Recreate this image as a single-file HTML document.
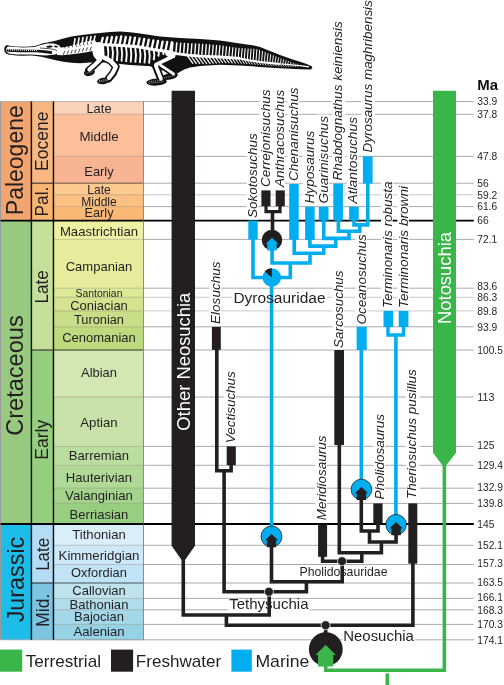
<!DOCTYPE html>
<html lang="en">
<head>
<meta charset="utf-8">
<title>Tethysuchia phylogeny</title>
<style>
html,body{margin:0;padding:0;background:#fff;}
body{width:504px;height:685px;overflow:hidden;font-family:"Liberation Sans",Arial,sans-serif;}
svg{display:block;}
</style>
</head>
<body>
<svg width="504" height="685" viewBox="0 0 504 685">
<rect width="504" height="685" fill="#fff"/>
<rect x="0.60" y="101.60" width="30.80" height="119.10" fill="#F2A56F" />
<rect x="0.60" y="220.70" width="30.80" height="303.30" fill="#97C97F" />
<rect x="0.60" y="524.00" width="30.80" height="115.80" fill="#1EBCE8" />
<rect x="31.40" y="101.60" width="21.90" height="81.60" fill="#F6B783" />
<rect x="31.40" y="183.20" width="21.90" height="37.50" fill="#F8B570" />
<rect x="31.40" y="220.70" width="21.90" height="129.30" fill="#C5E09B" />
<rect x="31.40" y="350.00" width="21.90" height="174.00" fill="#96CE7F" />
<rect x="31.40" y="524.00" width="21.90" height="59.00" fill="#B4DCF4" />
<rect x="31.40" y="583.00" width="21.90" height="56.80" fill="#7CC4E0" />
<rect x="53.30" y="101.60" width="89.70" height="12.70" fill="#FAD3B8" />
<rect x="53.30" y="114.30" width="89.70" height="42.10" fill="#FBBF9C" />
<rect x="53.30" y="156.40" width="89.70" height="26.80" fill="#F8B393" />
<rect x="53.30" y="183.20" width="89.70" height="11.60" fill="#FCC98E" />
<rect x="53.30" y="194.80" width="89.70" height="11.80" fill="#FBC082" />
<rect x="53.30" y="206.60" width="89.70" height="14.10" fill="#FAB877" />
<rect x="53.30" y="220.70" width="89.70" height="18.70" fill="#EEF1A2" />
<rect x="53.30" y="239.40" width="89.70" height="48.80" fill="#E7EC9C" />
<rect x="53.30" y="288.20" width="89.70" height="9.10" fill="#DEE996" />
<rect x="53.30" y="297.30" width="89.70" height="13.60" fill="#D4E38E" />
<rect x="53.30" y="310.90" width="89.70" height="15.90" fill="#C9DF87" />
<rect x="53.30" y="326.80" width="89.70" height="23.20" fill="#BEDA7F" />
<rect x="53.30" y="350.00" width="89.70" height="47.00" fill="#D3E7B2" />
<rect x="53.30" y="397.00" width="89.70" height="49.40" fill="#C9E2AA" />
<rect x="53.30" y="446.40" width="89.70" height="18.90" fill="#BCDDA0" />
<rect x="53.30" y="465.30" width="89.70" height="22.90" fill="#B0D896" />
<rect x="53.30" y="488.20" width="89.70" height="15.20" fill="#A4D38C" />
<rect x="53.30" y="503.40" width="89.70" height="20.60" fill="#98CE82" />
<rect x="53.30" y="524.00" width="89.70" height="21.30" fill="#DAEEFA" />
<rect x="53.30" y="545.30" width="89.70" height="19.20" fill="#CDE8F8" />
<rect x="53.30" y="564.50" width="89.70" height="18.50" fill="#C0E3F6" />
<rect x="53.30" y="583.00" width="89.70" height="15.40" fill="#BFE3EC" />
<rect x="53.30" y="598.40" width="89.70" height="11.40" fill="#B1DDEA" />
<rect x="53.30" y="609.80" width="89.70" height="14.60" fill="#A4D8E8" />
<rect x="53.30" y="624.40" width="89.70" height="15.40" fill="#96D2E5" />
<line x1="53.30" y1="114.30" x2="143.00" y2="114.30" stroke="#6e6450" stroke-width="0.7" stroke-opacity="0.45"/>
<line x1="53.30" y1="156.40" x2="143.00" y2="156.40" stroke="#6e6450" stroke-width="0.7" stroke-opacity="0.45"/>
<line x1="53.30" y1="183.20" x2="143.00" y2="183.20" stroke="#6e6450" stroke-width="0.7" stroke-opacity="0.45"/>
<line x1="53.30" y1="194.80" x2="143.00" y2="194.80" stroke="#6e6450" stroke-width="0.7" stroke-opacity="0.45"/>
<line x1="53.30" y1="206.60" x2="143.00" y2="206.60" stroke="#6e6450" stroke-width="0.7" stroke-opacity="0.45"/>
<line x1="53.30" y1="220.70" x2="143.00" y2="220.70" stroke="#6e6450" stroke-width="0.7" stroke-opacity="0.45"/>
<line x1="53.30" y1="239.40" x2="143.00" y2="239.40" stroke="#6e6450" stroke-width="0.7" stroke-opacity="0.45"/>
<line x1="53.30" y1="288.20" x2="143.00" y2="288.20" stroke="#6e6450" stroke-width="0.7" stroke-opacity="0.45"/>
<line x1="53.30" y1="297.30" x2="143.00" y2="297.30" stroke="#6e6450" stroke-width="0.7" stroke-opacity="0.45"/>
<line x1="53.30" y1="310.90" x2="143.00" y2="310.90" stroke="#6e6450" stroke-width="0.7" stroke-opacity="0.45"/>
<line x1="53.30" y1="326.80" x2="143.00" y2="326.80" stroke="#6e6450" stroke-width="0.7" stroke-opacity="0.45"/>
<line x1="53.30" y1="350.00" x2="143.00" y2="350.00" stroke="#6e6450" stroke-width="0.7" stroke-opacity="0.45"/>
<line x1="53.30" y1="397.00" x2="143.00" y2="397.00" stroke="#6e6450" stroke-width="0.7" stroke-opacity="0.45"/>
<line x1="53.30" y1="446.40" x2="143.00" y2="446.40" stroke="#6e6450" stroke-width="0.7" stroke-opacity="0.45"/>
<line x1="53.30" y1="465.30" x2="143.00" y2="465.30" stroke="#6e6450" stroke-width="0.7" stroke-opacity="0.45"/>
<line x1="53.30" y1="488.20" x2="143.00" y2="488.20" stroke="#6e6450" stroke-width="0.7" stroke-opacity="0.45"/>
<line x1="53.30" y1="503.40" x2="143.00" y2="503.40" stroke="#6e6450" stroke-width="0.7" stroke-opacity="0.45"/>
<line x1="53.30" y1="524.00" x2="143.00" y2="524.00" stroke="#6e6450" stroke-width="0.7" stroke-opacity="0.45"/>
<line x1="53.30" y1="545.30" x2="143.00" y2="545.30" stroke="#6e6450" stroke-width="0.7" stroke-opacity="0.45"/>
<line x1="53.30" y1="564.50" x2="143.00" y2="564.50" stroke="#6e6450" stroke-width="0.7" stroke-opacity="0.45"/>
<line x1="53.30" y1="583.00" x2="143.00" y2="583.00" stroke="#6e6450" stroke-width="0.7" stroke-opacity="0.45"/>
<line x1="53.30" y1="598.40" x2="143.00" y2="598.40" stroke="#6e6450" stroke-width="0.7" stroke-opacity="0.45"/>
<line x1="53.30" y1="609.80" x2="143.00" y2="609.80" stroke="#6e6450" stroke-width="0.7" stroke-opacity="0.45"/>
<line x1="53.30" y1="624.40" x2="143.00" y2="624.40" stroke="#6e6450" stroke-width="0.7" stroke-opacity="0.45"/>
<line x1="53.30" y1="639.80" x2="143.00" y2="639.80" stroke="#6e6450" stroke-width="0.7" stroke-opacity="0.45"/>
<line x1="0.60" y1="101.60" x2="143.00" y2="101.60" stroke="#9a9a9a" stroke-width="0.7" />
<line x1="0.60" y1="639.80" x2="143.00" y2="639.80" stroke="#9a9a9a" stroke-width="0.7" />
<line x1="0.50" y1="101.60" x2="0.50" y2="639.80" stroke="#9a9a9a" stroke-width="1" />
<line x1="31.40" y1="101.60" x2="31.40" y2="639.80" stroke="#111" stroke-width="1.45" />
<line x1="53.45" y1="101.60" x2="53.45" y2="639.80" stroke="#111" stroke-width="1.45" />
<line x1="53.30" y1="183.20" x2="143.00" y2="183.20" stroke="#6b5a4a" stroke-width="0.9" />
<line x1="31.40" y1="183.20" x2="53.30" y2="183.20" stroke="#231F20" stroke-width="1.0" />
<line x1="53.30" y1="350.00" x2="143.00" y2="350.00" stroke="#3c4a30" stroke-width="1.0" />
<line x1="31.40" y1="350.00" x2="53.30" y2="350.00" stroke="#231F20" stroke-width="1.0" />
<line x1="53.30" y1="583.00" x2="143.00" y2="583.00" stroke="#4a5a66" stroke-width="0.9" />
<line x1="31.40" y1="583.00" x2="53.30" y2="583.00" stroke="#231F20" stroke-width="1.0" />
<line x1="0.60" y1="220.70" x2="144.00" y2="220.70" stroke="#000" stroke-width="1.8" />
<line x1="0.60" y1="524.00" x2="144.00" y2="524.00" stroke="#000" stroke-width="1.8" />
<g font-family="'Liberation Sans', Arial, sans-serif">
<text x="99.00" y="112.60" font-size="12.4" text-anchor="middle" fill="#231F20" textLength="25.2" lengthAdjust="spacingAndGlyphs">Late</text>
<text x="99.00" y="141.40" font-size="12.9" text-anchor="middle" fill="#231F20" textLength="39.2" lengthAdjust="spacingAndGlyphs">Middle</text>
<text x="99.00" y="175.70" font-size="12.6" text-anchor="middle" fill="#231F20" textLength="29.4" lengthAdjust="spacingAndGlyphs">Early</text>
<text x="99.00" y="194.10" font-size="12.4" text-anchor="middle" fill="#231F20" textLength="23.5" lengthAdjust="spacingAndGlyphs">Late</text>
<text x="99.00" y="205.50" font-size="12.1" text-anchor="middle" fill="#231F20" textLength="35.5" lengthAdjust="spacingAndGlyphs">Middle</text>
<text x="99.00" y="217.30" font-size="12.4" text-anchor="middle" fill="#231F20" textLength="29.1" lengthAdjust="spacingAndGlyphs">Early</text>
<text x="99.00" y="235.60" font-size="13" text-anchor="middle" fill="#231F20" textLength="78.2" lengthAdjust="spacingAndGlyphs">Maastrichtian</text>
<text x="99.00" y="270.70" font-size="12.9" text-anchor="middle" fill="#231F20" textLength="66.6" lengthAdjust="spacingAndGlyphs">Campanian</text>
<text x="99.00" y="296.80" font-size="10.2" text-anchor="middle" fill="#231F20" textLength="46.9" lengthAdjust="spacingAndGlyphs">Santonian</text>
<text x="99.00" y="309.80" font-size="12.8" text-anchor="middle" fill="#231F20" textLength="57.7" lengthAdjust="spacingAndGlyphs">Coniacian</text>
<text x="99.00" y="324.30" font-size="12.5" text-anchor="middle" fill="#231F20" textLength="49.9" lengthAdjust="spacingAndGlyphs">Turonian</text>
<text x="99.00" y="342.10" font-size="12.9" text-anchor="middle" fill="#231F20" textLength="73.7" lengthAdjust="spacingAndGlyphs">Cenomanian</text>
<text x="99.00" y="376.60" font-size="12.7" text-anchor="middle" fill="#231F20" textLength="35.8" lengthAdjust="spacingAndGlyphs">Albian</text>
<text x="99.00" y="426.60" font-size="12.9" text-anchor="middle" fill="#231F20" textLength="37.4" lengthAdjust="spacingAndGlyphs">Aptian</text>
<text x="99.00" y="459.90" font-size="12.9" text-anchor="middle" fill="#231F20" textLength="60.3" lengthAdjust="spacingAndGlyphs">Barremian</text>
<text x="99.00" y="481.60" font-size="12.9" text-anchor="middle" fill="#231F20" textLength="66.3" lengthAdjust="spacingAndGlyphs">Hauterivian</text>
<text x="99.00" y="500.10" font-size="12.8" text-anchor="middle" fill="#231F20" textLength="67.8" lengthAdjust="spacingAndGlyphs">Valanginian</text>
<text x="99.00" y="518.50" font-size="12.9" text-anchor="middle" fill="#231F20" textLength="58.8" lengthAdjust="spacingAndGlyphs">Berriasian</text>
<text x="99.00" y="539.30" font-size="12.8" text-anchor="middle" fill="#231F20" textLength="53.5" lengthAdjust="spacingAndGlyphs">Tithonian</text>
<text x="99.00" y="559.60" font-size="13.0" text-anchor="middle" fill="#231F20" textLength="80.8" lengthAdjust="spacingAndGlyphs">Kimmeridgian</text>
<text x="99.00" y="577.40" font-size="12.7" text-anchor="middle" fill="#231F20" textLength="55.8" lengthAdjust="spacingAndGlyphs">Oxfordian</text>
<text x="99.00" y="594.70" font-size="12.8" text-anchor="middle" fill="#231F20" textLength="53.5" lengthAdjust="spacingAndGlyphs">Callovian</text>
<text x="99.00" y="608.70" font-size="12.9" text-anchor="middle" fill="#231F20" textLength="58.8" lengthAdjust="spacingAndGlyphs">Bathonian</text>
<text x="99.00" y="621.30" font-size="12.8" text-anchor="middle" fill="#231F20" textLength="49.8" lengthAdjust="spacingAndGlyphs">Bajocian</text>
<text x="99.00" y="636.20" font-size="12.9" text-anchor="middle" fill="#231F20" textLength="51.1" lengthAdjust="spacingAndGlyphs">Aalenian</text>
<text x="23.40" y="215.20" font-size="23.3" text-anchor="start" fill="#231F20" textLength="110.0" lengthAdjust="spacingAndGlyphs" transform="rotate(-90 23.40 215.20)">Paleogene</text>
<text x="23.50" y="435.80" font-size="23.4" text-anchor="start" fill="#231F20" textLength="120.5" lengthAdjust="spacingAndGlyphs" transform="rotate(-90 23.50 435.80)">Cretaceous</text>
<text x="23.70" y="622.30" font-size="23.4" text-anchor="start" fill="#231F20" textLength="85.6" lengthAdjust="spacingAndGlyphs" transform="rotate(-90 23.70 622.30)">Jurassic</text>
<text x="48.20" y="171.00" font-size="17.8" text-anchor="start" fill="#231F20" textLength="59.5" lengthAdjust="spacingAndGlyphs" transform="rotate(-90 48.20 171.00)">Eocene</text>
<text x="48.20" y="216.50" font-size="17.8" text-anchor="start" fill="#231F20" textLength="29.8" lengthAdjust="spacingAndGlyphs" transform="rotate(-90 48.20 216.50)">Pal.</text>
<text x="48.40" y="303.40" font-size="17.8" text-anchor="start" fill="#231F20" textLength="33.3" lengthAdjust="spacingAndGlyphs" transform="rotate(-90 48.40 303.40)">Late</text>
<text x="48.40" y="459.80" font-size="17.8" text-anchor="start" fill="#231F20" textLength="40.0" lengthAdjust="spacingAndGlyphs" transform="rotate(-90 48.40 459.80)">Early</text>
<text x="48.80" y="570.80" font-size="17.6" text-anchor="start" fill="#231F20" textLength="33.0" lengthAdjust="spacingAndGlyphs" transform="rotate(-90 48.80 570.80)">Late</text>
<text x="48.80" y="626.90" font-size="17.6" text-anchor="start" fill="#231F20" textLength="33.3" lengthAdjust="spacingAndGlyphs" transform="rotate(-90 48.80 626.90)">Mid.</text>
</g>
<line x1="143.50" y1="101.20" x2="143.50" y2="640.20" stroke="#8c8c8c" stroke-width="1.0" />
<line x1="143.50" y1="101.60" x2="473.80" y2="101.60" stroke="#969696" stroke-width="0.8" />
<line x1="143.50" y1="114.30" x2="473.80" y2="114.30" stroke="#969696" stroke-width="0.8" />
<line x1="143.50" y1="156.40" x2="473.80" y2="156.40" stroke="#969696" stroke-width="0.8" />
<line x1="143.50" y1="183.20" x2="473.80" y2="183.20" stroke="#969696" stroke-width="0.8" />
<line x1="143.50" y1="194.80" x2="473.80" y2="194.80" stroke="#bdbdbd" stroke-width="0.8" />
<line x1="143.50" y1="206.60" x2="473.80" y2="206.60" stroke="#969696" stroke-width="0.8" />
<line x1="143.50" y1="220.70" x2="473.80" y2="220.70" stroke="#000" stroke-width="1.8" />
<line x1="143.50" y1="239.40" x2="473.80" y2="239.40" stroke="#969696" stroke-width="0.8" />
<line x1="143.50" y1="288.20" x2="473.80" y2="288.20" stroke="#969696" stroke-width="0.8" />
<line x1="143.50" y1="297.30" x2="473.80" y2="297.30" stroke="#bdbdbd" stroke-width="0.8" />
<line x1="143.50" y1="310.90" x2="473.80" y2="310.90" stroke="#bdbdbd" stroke-width="0.8" />
<line x1="143.50" y1="326.80" x2="473.80" y2="326.80" stroke="#969696" stroke-width="0.8" />
<line x1="143.50" y1="350.00" x2="473.80" y2="350.00" stroke="#969696" stroke-width="0.8" />
<line x1="143.50" y1="397.00" x2="473.80" y2="397.00" stroke="#969696" stroke-width="0.8" />
<line x1="143.50" y1="446.40" x2="473.80" y2="446.40" stroke="#969696" stroke-width="0.8" />
<line x1="143.50" y1="465.30" x2="473.80" y2="465.30" stroke="#969696" stroke-width="0.8" />
<line x1="143.50" y1="488.20" x2="473.80" y2="488.20" stroke="#969696" stroke-width="0.8" />
<line x1="143.50" y1="503.40" x2="473.80" y2="503.40" stroke="#969696" stroke-width="0.8" />
<line x1="143.50" y1="524.00" x2="473.80" y2="524.00" stroke="#000" stroke-width="1.8" />
<line x1="143.50" y1="545.30" x2="473.80" y2="545.30" stroke="#969696" stroke-width="0.8" />
<line x1="143.50" y1="564.50" x2="473.80" y2="564.50" stroke="#969696" stroke-width="0.8" />
<line x1="143.50" y1="583.00" x2="473.80" y2="583.00" stroke="#969696" stroke-width="0.8" />
<line x1="143.50" y1="598.40" x2="473.80" y2="598.40" stroke="#969696" stroke-width="0.8" />
<line x1="143.50" y1="609.80" x2="473.80" y2="609.80" stroke="#969696" stroke-width="0.8" />
<line x1="143.50" y1="624.40" x2="473.80" y2="624.40" stroke="#969696" stroke-width="0.8" />
<line x1="143.50" y1="639.80" x2="473.80" y2="639.80" stroke="#969696" stroke-width="0.8" />
<g font-family="'Liberation Sans', Arial, sans-serif">
<text x="477.30" y="90.20" font-size="14.2" text-anchor="start" fill="#111" textLength="20.8" lengthAdjust="spacingAndGlyphs" font-weight="bold">Ma</text>
<text x="477.30" y="105.35" font-size="10.5" text-anchor="start" fill="#231F20" textLength="19.9" lengthAdjust="spacingAndGlyphs">33.9</text>
<text x="477.30" y="118.05" font-size="10.5" text-anchor="start" fill="#231F20" textLength="19.9" lengthAdjust="spacingAndGlyphs">37.8</text>
<text x="477.30" y="160.15" font-size="10.5" text-anchor="start" fill="#231F20" textLength="19.9" lengthAdjust="spacingAndGlyphs">47.8</text>
<text x="477.30" y="186.95" font-size="10.5" text-anchor="start" fill="#231F20" textLength="11.4" lengthAdjust="spacingAndGlyphs">56</text>
<text x="477.30" y="198.55" font-size="10.5" text-anchor="start" fill="#231F20" textLength="19.9" lengthAdjust="spacingAndGlyphs">59.2</text>
<text x="477.30" y="210.35" font-size="10.5" text-anchor="start" fill="#231F20" textLength="19.9" lengthAdjust="spacingAndGlyphs">61.6</text>
<text x="477.30" y="224.45" font-size="10.5" text-anchor="start" fill="#231F20" textLength="11.4" lengthAdjust="spacingAndGlyphs">66</text>
<text x="477.30" y="243.15" font-size="10.5" text-anchor="start" fill="#231F20" textLength="19.9" lengthAdjust="spacingAndGlyphs">72.1</text>
<text x="477.30" y="290.45" font-size="10.5" text-anchor="start" fill="#231F20" textLength="19.9" lengthAdjust="spacingAndGlyphs">83.6</text>
<text x="477.30" y="301.05" font-size="10.5" text-anchor="start" fill="#231F20" textLength="19.9" lengthAdjust="spacingAndGlyphs">86.3</text>
<text x="477.30" y="314.65" font-size="10.5" text-anchor="start" fill="#231F20" textLength="19.9" lengthAdjust="spacingAndGlyphs">89.8</text>
<text x="477.30" y="330.55" font-size="10.5" text-anchor="start" fill="#231F20" textLength="19.9" lengthAdjust="spacingAndGlyphs">93.9</text>
<text x="477.30" y="353.75" font-size="10.5" text-anchor="start" fill="#231F20" textLength="25.6" lengthAdjust="spacingAndGlyphs">100.5</text>
<text x="477.30" y="400.75" font-size="10.5" text-anchor="start" fill="#231F20" textLength="17.1" lengthAdjust="spacingAndGlyphs">113</text>
<text x="477.30" y="449.15" font-size="10.5" text-anchor="start" fill="#231F20" textLength="17.1" lengthAdjust="spacingAndGlyphs">125</text>
<text x="477.30" y="469.05" font-size="10.5" text-anchor="start" fill="#231F20" textLength="25.6" lengthAdjust="spacingAndGlyphs">129.4</text>
<text x="477.30" y="490.95" font-size="10.5" text-anchor="start" fill="#231F20" textLength="25.6" lengthAdjust="spacingAndGlyphs">132.9</text>
<text x="477.30" y="507.15" font-size="10.5" text-anchor="start" fill="#231F20" textLength="25.6" lengthAdjust="spacingAndGlyphs">139.8</text>
<text x="477.30" y="527.75" font-size="10.5" text-anchor="start" fill="#231F20" textLength="17.1" lengthAdjust="spacingAndGlyphs">145</text>
<text x="477.30" y="549.05" font-size="10.5" text-anchor="start" fill="#231F20" textLength="25.6" lengthAdjust="spacingAndGlyphs">152.1</text>
<text x="477.30" y="566.75" font-size="10.5" text-anchor="start" fill="#231F20" textLength="25.6" lengthAdjust="spacingAndGlyphs">157.3</text>
<text x="477.30" y="585.85" font-size="10.5" text-anchor="start" fill="#231F20" textLength="25.6" lengthAdjust="spacingAndGlyphs">163.5</text>
<text x="477.30" y="600.55" font-size="10.5" text-anchor="start" fill="#231F20" textLength="25.6" lengthAdjust="spacingAndGlyphs">166.1</text>
<text x="477.30" y="613.55" font-size="10.5" text-anchor="start" fill="#231F20" textLength="25.6" lengthAdjust="spacingAndGlyphs">168.3</text>
<text x="477.30" y="628.15" font-size="10.5" text-anchor="start" fill="#231F20" textLength="25.6" lengthAdjust="spacingAndGlyphs">170.3</text>
<text x="477.30" y="643.55" font-size="10.5" text-anchor="start" fill="#231F20" textLength="25.6" lengthAdjust="spacingAndGlyphs">174.1</text>
</g>
<rect x="246.70" y="131.70" width="11.60" height="87.70" fill="#fff" />
<rect x="259.60" y="87.90" width="13.80" height="100.70" fill="#fff" />
<rect x="273.20" y="88.10" width="11.60" height="100.50" fill="#fff" />
<rect x="287.50" y="86.00" width="11.60" height="96.60" fill="#fff" />
<rect x="303.00" y="129.20" width="13.80" height="75.80" fill="#fff" />
<rect x="317.20" y="114.50" width="11.60" height="90.50" fill="#fff" />
<rect x="331.70" y="19.60" width="13.80" height="162.40" fill="#fff" />
<rect x="346.80" y="115.40" width="11.60" height="89.60" fill="#fff" />
<rect x="361.40" y="-1.30" width="13.80" height="155.20" fill="#fff" />
<rect x="209.50" y="259.90" width="11.60" height="65.60" fill="#fff" />
<rect x="224.10" y="369.70" width="11.60" height="75.00" fill="#fff" />
<rect x="332.60" y="269.00" width="11.60" height="80.40" fill="#fff" />
<rect x="355.40" y="232.70" width="11.60" height="93.30" fill="#fff" />
<rect x="381.00" y="180.00" width="11.60" height="129.50" fill="#fff" />
<rect x="397.30" y="184.50" width="11.60" height="125.00" fill="#fff" />
<rect x="315.20" y="433.90" width="11.60" height="87.90" fill="#fff" />
<rect x="373.40" y="412.40" width="11.60" height="88.60" fill="#fff" />
<rect x="405.70" y="367.80" width="13.80" height="132.60" fill="#fff" />
<rect x="232.50" y="294.00" width="94.00" height="7.00" fill="#fff" />
<rect x="228.40" y="607.00" width="81.10" height="5.00" fill="#fff" />
<rect x="342.60" y="637.00" width="72.40" height="5.00" fill="#fff" />
<path d="M171.6 90.7 H195 V545.8 L185.2 559.7 H181.4 L171.6 545.8 Z" fill="#231F20"/>
<path d="M433 90.7 H456 V452.7 L446.2 465.6 H442.5 L433 452.7 Z" fill="#39B54A"/>
<polyline points="444.35,460.00 444.35,670.20 325.70,670.20 325.70,660.00" fill="none" stroke="#39B54A" stroke-width="3.6" stroke-linejoin="miter" />
<line x1="387.30" y1="673.40" x2="387.30" y2="686.00" stroke="#39B54A" stroke-width="3.6" />
<polyline points="183.30,555.00 183.30,615.00 269.20,615.00 269.20,591.70" fill="none" stroke="#231F20" stroke-width="3.6" stroke-linejoin="miter" />
<rect x="211.90" y="326.90" width="8.90" height="23.00" fill="#231F20" />
<rect x="226.70" y="446.40" width="9.10" height="18.70" fill="#231F20" />
<polyline points="216.80,349.00 216.80,470.80 231.10,470.80 231.10,464.00" fill="none" stroke="#231F20" stroke-width="3.6" stroke-linejoin="miter" />
<polyline points="224.10,470.80 224.10,591.70 306.40,591.70 306.40,581.80" fill="none" stroke="#231F20" stroke-width="3.6" stroke-linejoin="miter" />
<polyline points="271.50,540.00 271.50,581.80 342.20,581.80 342.20,561.20" fill="none" stroke="#231F20" stroke-width="3.6" stroke-linejoin="miter" />
<polyline points="226.40,615.00 226.40,625.20 412.90,625.20 412.90,560.00" fill="none" stroke="#231F20" stroke-width="3.6" stroke-linejoin="miter" />
<rect x="408.30" y="503.40" width="9.00" height="60.20" fill="#231F20" />
<line x1="325.70" y1="625.20" x2="325.70" y2="640.00" stroke="#231F20" stroke-width="3.6" />
<rect x="318.10" y="524.60" width="9.00" height="32.20" fill="#231F20" />
<polyline points="322.60,556.00 322.60,561.20 361.80,561.20 361.80,552.80" fill="none" stroke="#231F20" stroke-width="3.6" stroke-linejoin="miter" />
<rect x="334.30" y="350.00" width="9.70" height="95.00" fill="#231F20" />
<polyline points="339.30,445.00 339.30,552.80 381.40,552.80 381.40,542.00" fill="none" stroke="#231F20" stroke-width="3.6" stroke-linejoin="miter" />
<polyline points="369.50,531.00 369.50,542.00 396.10,542.00 396.10,530.00" fill="none" stroke="#231F20" stroke-width="3.6" stroke-linejoin="miter" />
<rect x="373.30" y="503.40" width="9.30" height="20.20" fill="#231F20" />
<polyline points="361.30,495.00 361.30,531.00 378.00,531.00 378.00,523.00" fill="none" stroke="#231F20" stroke-width="3.6" stroke-linejoin="miter" />
<rect x="261.40" y="190.40" width="9.10" height="15.80" fill="#231F20" />
<rect x="275.70" y="190.40" width="9.10" height="15.80" fill="#231F20" />
<polyline points="266.00,206.00 266.00,211.60 280.00,211.60 280.00,206.00" fill="none" stroke="#231F20" stroke-width="3.2" stroke-linejoin="miter" />
<line x1="272.50" y1="211.60" x2="272.50" y2="232.00" stroke="#231F20" stroke-width="3.6" />
<rect x="248.30" y="220.60" width="9.40" height="19.00" fill="#00AEEF" />
<polyline points="253.00,239.00 253.00,277.50 290.30,277.50 290.30,263.00" fill="none" stroke="#00AEEF" stroke-width="3.6" stroke-linejoin="miter" />
<polyline points="272.10,250.00 272.10,263.00 310.00,263.00 310.00,253.30" fill="none" stroke="#00AEEF" stroke-width="3.6" stroke-linejoin="miter" />
<rect x="289.20" y="184.00" width="9.50" height="55.70" fill="#00AEEF" />
<polyline points="294.20,239.00 294.20,253.30 323.70,253.30 323.70,246.10" fill="none" stroke="#00AEEF" stroke-width="3.6" stroke-linejoin="miter" />
<rect x="305.10" y="206.70" width="9.60" height="33.30" fill="#00AEEF" />
<polyline points="309.90,239.50 309.90,246.10 335.80,246.10 335.80,238.40" fill="none" stroke="#00AEEF" stroke-width="3.6" stroke-linejoin="miter" />
<rect x="318.80" y="206.70" width="9.70" height="13.90" fill="#00AEEF" />
<polyline points="323.70,220.00 323.70,238.40 349.00,238.40 349.00,231.30" fill="none" stroke="#00AEEF" stroke-width="3.6" stroke-linejoin="miter" />
<rect x="333.30" y="183.60" width="9.60" height="37.00" fill="#00AEEF" />
<polyline points="338.40,220.00 338.40,231.30 359.80,231.30 359.80,224.90" fill="none" stroke="#00AEEF" stroke-width="3.6" stroke-linejoin="miter" />
<rect x="349.10" y="206.70" width="9.60" height="13.90" fill="#00AEEF" />
<polyline points="354.00,220.00 354.00,224.90 367.80,224.90 367.80,183.00" fill="none" stroke="#00AEEF" stroke-width="3.6" stroke-linejoin="miter" />
<rect x="362.90" y="156.30" width="9.70" height="27.30" fill="#00AEEF" />
<line x1="271.60" y1="277.50" x2="271.60" y2="530.00" stroke="#00AEEF" stroke-width="3.6" />
<rect x="356.60" y="326.80" width="10.10" height="23.20" fill="#00AEEF" />
<line x1="361.30" y1="349.50" x2="361.30" y2="485.00" stroke="#00AEEF" stroke-width="3.6" />
<rect x="383.50" y="310.90" width="9.70" height="16.10" fill="#00AEEF" />
<rect x="398.70" y="310.90" width="9.70" height="16.10" fill="#00AEEF" />
<polyline points="388.00,326.00 388.00,334.90 403.50,334.90 403.50,326.00" fill="none" stroke="#00AEEF" stroke-width="3.5" stroke-linejoin="miter" />
<line x1="395.90" y1="334.90" x2="395.90" y2="520.00" stroke="#00AEEF" stroke-width="3.6" />
<circle cx="272.0" cy="240.1" r="10.25" fill="#231F20"/>
<path d="M272.00 237.70 L278.25 243.80 H276.75 V250.60 H267.25 V243.80 H265.75 Z" fill="#00AEEF"/>
<circle cx="271.8" cy="277.5" r="9.3" fill="#00AEEF"/>
<path d="M271.8 277.5 L271.8 268.2 A9.3 9.3 0 0 0 264.63 271.57 Z" fill="#231F20"/>
<circle cx="271.5" cy="536.5" r="10.5" fill="#00AEEF" stroke="#231F20" stroke-width="0.8"/>
<path d="M271.50 533.90 L278.15 540.30 H276.15 V547.20 H266.85 V540.30 H264.85 Z" fill="#231F20"/>
<circle cx="361.4" cy="489.5" r="10.3" fill="#00AEEF" stroke="#231F20" stroke-width="0.8"/>
<path d="M361.40 486.90 L368.05 493.30 H366.05 V500.00 H356.75 V493.30 H354.75 Z" fill="#231F20"/>
<circle cx="396.1" cy="524.7" r="10.3" fill="#00AEEF" stroke="#231F20" stroke-width="0.8"/>
<path d="M396.10 522.10 L402.75 528.50 H400.75 V535.20 H391.45 V528.50 H389.45 Z" fill="#231F20"/>
<circle cx="268.9" cy="591.7" r="4.5" fill="#231F20" stroke="#fff" stroke-width="0.7"/>
<circle cx="342.0" cy="561.2" r="4.5" fill="#231F20" stroke="#fff" stroke-width="0.7"/>
<circle cx="325.6" cy="625.2" r="4.5" fill="#231F20" stroke="#fff" stroke-width="0.7"/>
<circle cx="325.8" cy="649.2" r="16.9" fill="#231F20"/>
<path d="M325.70 644.80 L335.95 655.00 H333.30 V666.40 H318.10 V655.00 H315.45 Z" fill="#39B54A"/>
<g font-family="'Liberation Sans', Arial, sans-serif">
<text x="257.30" y="217.90" font-size="13.4" text-anchor="start" fill="#231F20" textLength="84.7" lengthAdjust="spacingAndGlyphs" transform="rotate(-90 257.30 217.90)" font-style="italic">Sokotosuchus</text>
<text x="270.20" y="187.10" font-size="13.4" text-anchor="start" fill="#231F20" textLength="97.7" lengthAdjust="spacingAndGlyphs" transform="rotate(-90 270.20 187.10)" font-style="italic">Cerrejonisuchus</text>
<text x="283.80" y="187.10" font-size="13.4" text-anchor="start" fill="#231F20" textLength="97.5" lengthAdjust="spacingAndGlyphs" transform="rotate(-90 283.80 187.10)" font-style="italic">Anthracosuchus</text>
<text x="298.10" y="181.10" font-size="13.4" text-anchor="start" fill="#231F20" textLength="93.6" lengthAdjust="spacingAndGlyphs" transform="rotate(-90 298.10 181.10)" font-style="italic">Chenanisuchus</text>
<text x="313.60" y="203.50" font-size="13.4" text-anchor="start" fill="#231F20" textLength="72.8" lengthAdjust="spacingAndGlyphs" transform="rotate(-90 313.60 203.50)" font-style="italic">Hyposaurus</text>
<text x="327.80" y="203.50" font-size="13.4" text-anchor="start" fill="#231F20" textLength="87.5" lengthAdjust="spacingAndGlyphs" transform="rotate(-90 327.80 203.50)" font-style="italic">Guarinisuchus</text>
<text x="342.30" y="180.50" font-size="13.4" text-anchor="start" fill="#231F20" textLength="159.4" lengthAdjust="spacingAndGlyphs" transform="rotate(-90 342.30 180.50)" font-style="italic">Rhabdognathus keiniensis</text>
<text x="357.40" y="203.50" font-size="13.4" text-anchor="start" fill="#231F20" textLength="86.6" lengthAdjust="spacingAndGlyphs" transform="rotate(-90 357.40 203.50)" font-style="italic">Atlantosuchus</text>
<text x="372.00" y="152.40" font-size="13.4" text-anchor="start" fill="#231F20" textLength="152.2" lengthAdjust="spacingAndGlyphs" transform="rotate(-90 372.00 152.40)" font-style="italic">Dyrosaurus maghribensis</text>
<text x="220.10" y="324.00" font-size="13.4" text-anchor="start" fill="#231F20" textLength="62.6" lengthAdjust="spacingAndGlyphs" transform="rotate(-90 220.10 324.00)" font-style="italic">Elosuchus</text>
<text x="234.70" y="443.20" font-size="13.4" text-anchor="start" fill="#231F20" textLength="72.0" lengthAdjust="spacingAndGlyphs" transform="rotate(-90 234.70 443.20)" font-style="italic">Vectisuchus</text>
<text x="343.20" y="347.90" font-size="13.4" text-anchor="start" fill="#231F20" textLength="77.4" lengthAdjust="spacingAndGlyphs" transform="rotate(-90 343.20 347.90)" font-style="italic">Sarcosuchus</text>
<text x="366.00" y="324.50" font-size="13.4" text-anchor="start" fill="#231F20" textLength="90.3" lengthAdjust="spacingAndGlyphs" transform="rotate(-90 366.00 324.50)" font-style="italic">Oceanosuchus</text>
<text x="391.60" y="308.00" font-size="13.4" text-anchor="start" fill="#231F20" textLength="126.5" lengthAdjust="spacingAndGlyphs" transform="rotate(-90 391.60 308.00)" font-style="italic">Terminonaris robusta</text>
<text x="407.90" y="308.00" font-size="13.4" text-anchor="start" fill="#231F20" textLength="122.0" lengthAdjust="spacingAndGlyphs" transform="rotate(-90 407.90 308.00)" font-style="italic">Terminonaris browni</text>
<text x="325.80" y="520.30" font-size="13.4" text-anchor="start" fill="#231F20" textLength="84.9" lengthAdjust="spacingAndGlyphs" transform="rotate(-90 325.80 520.30)" font-style="italic">Meridiosaurus</text>
<text x="384.00" y="499.50" font-size="13.4" text-anchor="start" fill="#231F20" textLength="85.6" lengthAdjust="spacingAndGlyphs" transform="rotate(-90 384.00 499.50)" font-style="italic">Pholidosaurus</text>
<text x="416.30" y="498.90" font-size="13.4" text-anchor="start" fill="#231F20" textLength="129.6" lengthAdjust="spacingAndGlyphs" transform="rotate(-90 416.30 498.90)" font-style="italic">Theriosuchus pusillus</text>
<text x="190.00" y="430.70" font-size="18.2" text-anchor="start" fill="#fff" textLength="138.0" lengthAdjust="spacingAndGlyphs" transform="rotate(-90 190.00 430.70)">Other Neosuchia</text>
<text x="450.70" y="324.00" font-size="18.2" text-anchor="start" fill="#fff" textLength="92.1" lengthAdjust="spacingAndGlyphs" transform="rotate(-90 450.70 324.00)">Notosuchia</text>
<text x="233.40" y="302.50" font-size="15.2" text-anchor="start" fill="#231F20" textLength="92.2" lengthAdjust="spacingAndGlyphs">Dyrosauridae</text>
<text x="229.20" y="608.90" font-size="15.0" text-anchor="start" fill="#231F20" textLength="79.3" lengthAdjust="spacingAndGlyphs">Tethysuchia</text>
<text x="343.20" y="641.00" font-size="15.0" text-anchor="start" fill="#231F20" textLength="70.7" lengthAdjust="spacingAndGlyphs">Neosuchia</text>
<text x="299.50" y="576.20" font-size="12.4" text-anchor="start" fill="#231F20" textLength="88.0" lengthAdjust="spacingAndGlyphs">Pholidosauridae</text>
<rect x="0.00" y="649.60" width="22.20" height="22.10" fill="#39B54A" />
<rect x="111.00" y="649.60" width="22.10" height="22.10" fill="#231F20" />
<rect x="231.40" y="649.60" width="20.40" height="22.10" fill="#00AEEF" />
<text x="25.70" y="667.00" font-size="17" text-anchor="start" fill="#231F20" textLength="75.3" lengthAdjust="spacingAndGlyphs">Terrestrial</text>
<text x="135.80" y="667.00" font-size="17" text-anchor="start" fill="#231F20" textLength="85.3" lengthAdjust="spacingAndGlyphs">Freshwater</text>
<text x="255.40" y="667.00" font-size="17" text-anchor="start" fill="#231F20" textLength="54.0" lengthAdjust="spacingAndGlyphs">Marine</text>
</g>
<g id="croc">
<polygon points="4.6,48.5 5.2,46.3 7.0,45.4 9.5,45.7 16.0,46.4 23.8,46.8 30.0,46.6 34.9,46.1 38.0,45.0 41.3,43.7 44.0,42.9 47.6,42.4 51.0,41.8 55.6,40.8 63.5,38.5 71.4,36.6 80.0,35.2 90.0,33.9 100.0,32.9 110.0,32.0 120.0,31.5 130.0,32.2 140.0,33.6 150.0,35.1 160.0,36.5 180.0,37.9 200.0,38.9 220.0,40.5 240.0,43.6 254.0,45.4 260.0,47.0 280.0,55.0 292.0,59.3 300.0,61.8 306.0,63.8 310.0,65.4 312.0,66.6 312.0,66.6 312.3,68.2 310.5,69.6 300.0,69.2 280.0,68.3 260.0,66.9 240.0,65.5 220.0,64.7 200.0,66.0 190.0,67.4 184.0,69.6 178.0,72.4 170.0,72.0 160.0,68.5 155.0,66.6 143.0,65.8 130.0,65.0 117.5,63.7 105.0,62.6 90.0,62.6 80.0,63.2 71.4,62.8 63.5,61.8 55.6,60.2 47.6,58.3 41.3,56.7 36.0,55.9 31.7,55.6 22.0,55.8 15.9,55.5 9.0,54.6 6.3,53.4 4.8,51.5 4.6,48.5" fill="#111"/>
<polyline points="100.5,59.5 94.0,65.8 88.6,70.2" fill="none" stroke="#111" stroke-width="7.0" stroke-linecap="round" stroke-linejoin="round"/>
<ellipse cx="89.4" cy="72.4" rx="5.6" ry="3.5" fill="#111" transform="rotate(-14 89.4 72.4)"/>
<polyline points="103.0,57.0 110.5,60.8 116.0,66.6 113.2,73.0 108.6,78.6" fill="none" stroke="#111" stroke-width="7.6" stroke-linecap="round" stroke-linejoin="round"/>
<ellipse cx="103.4" cy="81.0" rx="6.4" ry="3.2" fill="#111" transform="rotate(-8 103.4 81.0)"/>
<polyline points="172.5,56.5 162.0,61.5 155.2,64.9 158.0,72.0 161.2,79.6" fill="none" stroke="#111" stroke-width="7.4" stroke-linecap="round" stroke-linejoin="round"/>
<ellipse cx="156.6" cy="82.0" rx="10.3" ry="3.6" fill="#111" transform="rotate(-4 156.6 82.0)"/>
<polyline points="160.0,65.0 168.0,70.2 174.5,74.6" fill="none" stroke="#111" stroke-width="5.8" stroke-linecap="round" stroke-linejoin="round"/>
<ellipse cx="169.6" cy="76.4" rx="8.3" ry="3.2" fill="#111" transform="rotate(-12 169.6 76.4)"/>
<polygon points="150.0,60.0 178.0,54.0 186.0,68.0 178.0,73.0 160.0,70.0 150.0,66.0" fill="#111"/>
<polygon points="6.0,47.0 8.5,46.4 23.0,47.6 34.5,47.0 40.5,45.0 47.0,43.6 54.0,43.4 59.0,45.2 61.5,48.5 60.0,52.5 55.0,54.6 46.0,55.6 38.0,54.9 31.0,54.6 16.0,54.6 9.0,53.6 6.4,52.2 5.6,49.5" fill="#fff"/>
<polyline points="7.0,50.5 20.0,50.8 37.0,51.0 44.0,51.6 52.0,52.6" fill="none" stroke="#111" stroke-width="2.7"/>
<line x1="8" y1="49.9" x2="37.5" y2="50.4" stroke="#fff" stroke-width="1.3" stroke-dasharray="0.9 1.1"/>
<polygon points="4.4,48.6 5.0,46.2 7.0,45.2 9.0,45.6 7.4,46.8 6.2,48.4 6.6,52.0 8.6,53.6 9.0,54.8 6.3,53.6 4.7,51.6" fill="#111"/>
<ellipse cx="49.5" cy="46.6" rx="3.2" ry="1.1" fill="#111" transform="rotate(-8 49.5 46.6)"/>
<ellipse cx="56.0" cy="46.6" rx="2.0" ry="0.9" fill="#111" transform="rotate(10 56.0 46.6)"/>
<polyline points="40.0,48.0 48.0,48.6 55.0,49.6 58.0,51.5" fill="none" stroke="#111" stroke-width="0.7"/>
<polygon points="57.0,47.6 62.0,47.6 70.0,46.0 78.0,43.8 86.0,41.8 95.0,40.0 97.0,44.0 96.0,50.0 88.0,52.0 78.0,53.4 70.0,54.6 62.0,55.2 57.0,55.0" fill="#fff"/>
<line x1="64.0" y1="45.6" x2="65.2" y2="48.4" stroke="#111" stroke-width="0.8"/>
<line x1="64.8" y1="51.0" x2="63.2" y2="54.8" stroke="#111" stroke-width="0.8"/>
<line x1="67.8" y1="45.1" x2="69.0" y2="47.9" stroke="#111" stroke-width="0.8"/>
<line x1="68.6" y1="50.5" x2="67.0" y2="54.3" stroke="#111" stroke-width="0.8"/>
<line x1="71.6" y1="44.5" x2="72.8" y2="47.3" stroke="#111" stroke-width="0.8"/>
<line x1="72.4" y1="49.9" x2="70.8" y2="53.7" stroke="#111" stroke-width="0.8"/>
<line x1="75.4" y1="43.9" x2="76.6" y2="46.7" stroke="#111" stroke-width="0.8"/>
<line x1="76.2" y1="49.3" x2="74.6" y2="53.1" stroke="#111" stroke-width="0.8"/>
<line x1="79.2" y1="43.3" x2="80.4" y2="46.1" stroke="#111" stroke-width="0.8"/>
<line x1="80.0" y1="48.7" x2="78.4" y2="52.5" stroke="#111" stroke-width="0.8"/>
<line x1="83.0" y1="42.6" x2="84.2" y2="45.4" stroke="#111" stroke-width="0.8"/>
<line x1="83.8" y1="48.0" x2="82.2" y2="51.8" stroke="#111" stroke-width="0.8"/>
<line x1="86.8" y1="42.0" x2="88.0" y2="44.8" stroke="#111" stroke-width="0.8"/>
<line x1="87.6" y1="47.4" x2="86.0" y2="51.2" stroke="#111" stroke-width="0.8"/>
<line x1="90.6" y1="41.4" x2="91.8" y2="44.2" stroke="#111" stroke-width="0.8"/>
<line x1="91.4" y1="46.8" x2="89.8" y2="50.6" stroke="#111" stroke-width="0.8"/>
<line x1="74.0" y1="45.4" x2="75.0" y2="38.8" stroke="#fff" stroke-width="1.6" stroke-linecap="round"/>
<line x1="78.0" y1="44.3" x2="79.0" y2="38.1" stroke="#fff" stroke-width="1.6" stroke-linecap="round"/>
<line x1="82.0" y1="43.3" x2="83.0" y2="37.5" stroke="#fff" stroke-width="1.6" stroke-linecap="round"/>
<line x1="86.0" y1="42.3" x2="87.0" y2="37.0" stroke="#fff" stroke-width="1.6" stroke-linecap="round"/>
<line x1="90.0" y1="41.5" x2="91.0" y2="36.5" stroke="#fff" stroke-width="1.6" stroke-linecap="round"/>
<line x1="94.0" y1="40.7" x2="95.0" y2="36.1" stroke="#fff" stroke-width="1.6" stroke-linecap="round"/>
<polyline points="100.0,44.8 106.0,44.7 122.0,45.5 138.0,46.7 153.0,49.4 170.0,51.9" fill="none" stroke="#fff" stroke-width="3.0" stroke-linejoin="round"/>
<polyline points="170.0,51.9 176.0,53.6 188.0,55.2 200.0,56.2 220.0,57.0 240.0,58.4" fill="none" stroke="#fff" stroke-width="2.8" stroke-linejoin="round"/>
<polyline points="240.0,58.4 250.0,60.4 260.0,62.0 280.0,63.9" fill="none" stroke="#fff" stroke-width="2.0" stroke-linejoin="round"/>
<polyline points="280.0,63.9 300.0,65.7 309.0,66.8" fill="none" stroke="#fff" stroke-width="1.2" stroke-linejoin="round"/>
<polygon points="93.0,42.5 100.0,42.0 104.0,46.0 104.5,54.0 102.0,59.5 97.0,60.5 93.5,56.0 92.0,50.0" fill="#fff"/>
<line x1="101.0" y1="44.8" x2="102.8" y2="37.8" stroke="#fff" stroke-width="2.3" stroke-linecap="round"/>
<line x1="105.6" y1="44.7" x2="107.4" y2="37.4" stroke="#fff" stroke-width="2.3" stroke-linecap="round"/>
<line x1="110.2" y1="44.9" x2="112.0" y2="37.0" stroke="#fff" stroke-width="2.3" stroke-linecap="round"/>
<line x1="114.8" y1="45.1" x2="116.6" y2="36.8" stroke="#fff" stroke-width="2.3" stroke-linecap="round"/>
<line x1="119.4" y1="45.4" x2="121.2" y2="36.5" stroke="#fff" stroke-width="2.3" stroke-linecap="round"/>
<line x1="124.0" y1="45.6" x2="125.8" y2="36.8" stroke="#fff" stroke-width="2.3" stroke-linecap="round"/>
<line x1="128.6" y1="46.0" x2="130.4" y2="37.1" stroke="#fff" stroke-width="2.3" stroke-linecap="round"/>
<line x1="133.2" y1="46.3" x2="135.0" y2="37.6" stroke="#fff" stroke-width="2.3" stroke-linecap="round"/>
<line x1="137.8" y1="46.7" x2="139.6" y2="38.3" stroke="#fff" stroke-width="2.3" stroke-linecap="round"/>
<line x1="142.4" y1="47.5" x2="144.2" y2="39.0" stroke="#fff" stroke-width="2.3" stroke-linecap="round"/>
<line x1="147.0" y1="48.3" x2="148.8" y2="39.6" stroke="#fff" stroke-width="2.3" stroke-linecap="round"/>
<line x1="151.6" y1="49.1" x2="153.4" y2="40.3" stroke="#fff" stroke-width="2.3" stroke-linecap="round"/>
<line x1="156.2" y1="49.9" x2="158.0" y2="41.0" stroke="#fff" stroke-width="2.3" stroke-linecap="round"/>
<line x1="160.8" y1="50.5" x2="162.6" y2="41.6" stroke="#fff" stroke-width="2.3" stroke-linecap="round"/>
<line x1="165.4" y1="51.2" x2="167.2" y2="41.9" stroke="#fff" stroke-width="2.3" stroke-linecap="round"/>
<line x1="170.0" y1="51.9" x2="171.8" y2="42.2" stroke="#fff" stroke-width="2.3" stroke-linecap="round"/>
<path d="M107.5 44.8 Q109.1 52.5 107.7 60.2" fill="none" stroke="#fff" stroke-width="1.9"/>
<path d="M112.1 45.0 Q113.7 52.8 112.3 60.6" fill="none" stroke="#fff" stroke-width="1.9"/>
<path d="M116.7 45.2 Q118.3 53.1 116.9 61.0" fill="none" stroke="#fff" stroke-width="1.9"/>
<path d="M121.3 45.5 Q122.9 53.5 121.5 61.5" fill="none" stroke="#fff" stroke-width="1.9"/>
<path d="M125.9 45.8 Q127.5 53.9 126.1 62.0" fill="none" stroke="#fff" stroke-width="1.9"/>
<path d="M130.5 46.1 Q132.1 54.3 130.7 62.4" fill="none" stroke="#fff" stroke-width="1.9"/>
<path d="M135.1 46.5 Q136.7 54.6 135.3 62.7" fill="none" stroke="#fff" stroke-width="1.9"/>
<path d="M139.7 47.0 Q141.3 55.0 139.9 63.0" fill="none" stroke="#fff" stroke-width="1.9"/>
<path d="M144.3 47.8 Q145.9 55.6 144.5 63.3" fill="none" stroke="#fff" stroke-width="1.9"/>
<path d="M148.9 48.7 Q150.5 56.1 149.1 63.6" fill="none" stroke="#fff" stroke-width="1.9"/>
<path d="M153.5 49.5 Q155.1 54.9 153.7 60.3" fill="none" stroke="#fff" stroke-width="1.9"/>
<path d="M158.1 50.1 Q159.7 53.3 158.3 56.5" fill="none" stroke="#fff" stroke-width="1.9"/>
<path d="M162.7 50.8 Q164.3 52.8 162.9 54.8" fill="none" stroke="#fff" stroke-width="1.9"/>
<polygon points="165.0,51.0 172.0,51.6 176.0,54.5 174.6,58.0 169.0,57.6 165.5,55.0" fill="#fff"/>
<line x1="172.0" y1="52.0" x2="172.9" y2="42.1" stroke="#fff" stroke-width="1.55"/>
<line x1="175.9" y1="53.1" x2="176.8" y2="42.4" stroke="#fff" stroke-width="1.53"/>
<line x1="179.8" y1="53.6" x2="180.7" y2="42.7" stroke="#fff" stroke-width="1.50"/>
<line x1="183.6" y1="54.1" x2="184.5" y2="42.9" stroke="#fff" stroke-width="1.48"/>
<line x1="187.3" y1="54.6" x2="188.2" y2="43.1" stroke="#fff" stroke-width="1.45"/>
<line x1="187.3" y1="55.6" x2="193.0" y2="63.7" stroke="#fff" stroke-width="1.30"/>
<line x1="191.0" y1="55.0" x2="191.9" y2="43.3" stroke="#fff" stroke-width="1.43"/>
<line x1="191.0" y1="56.0" x2="196.5" y2="63.8" stroke="#fff" stroke-width="1.28"/>
<line x1="194.7" y1="55.3" x2="195.6" y2="43.4" stroke="#fff" stroke-width="1.41"/>
<line x1="194.7" y1="56.3" x2="200.0" y2="63.9" stroke="#fff" stroke-width="1.26"/>
<line x1="198.3" y1="55.6" x2="199.2" y2="43.6" stroke="#fff" stroke-width="1.38"/>
<line x1="198.3" y1="56.6" x2="203.5" y2="64.0" stroke="#fff" stroke-width="1.23"/>
<line x1="201.8" y1="55.8" x2="202.7" y2="43.8" stroke="#fff" stroke-width="1.36"/>
<line x1="201.8" y1="56.8" x2="206.9" y2="64.0" stroke="#fff" stroke-width="1.21"/>
<line x1="205.4" y1="55.9" x2="206.3" y2="44.1" stroke="#fff" stroke-width="1.34"/>
<line x1="205.4" y1="56.9" x2="210.3" y2="63.9" stroke="#fff" stroke-width="1.19"/>
<line x1="208.8" y1="56.1" x2="209.7" y2="44.4" stroke="#fff" stroke-width="1.32"/>
<line x1="208.8" y1="57.1" x2="213.5" y2="63.7" stroke="#fff" stroke-width="1.17"/>
<line x1="212.3" y1="56.2" x2="213.2" y2="44.7" stroke="#fff" stroke-width="1.29"/>
<line x1="212.3" y1="57.2" x2="216.7" y2="63.5" stroke="#fff" stroke-width="1.14"/>
<line x1="215.7" y1="56.3" x2="216.6" y2="45.0" stroke="#fff" stroke-width="1.27"/>
<line x1="215.7" y1="57.3" x2="219.8" y2="63.3" stroke="#fff" stroke-width="1.12"/>
<line x1="219.0" y1="56.5" x2="219.9" y2="45.2" stroke="#fff" stroke-width="1.25"/>
<line x1="219.0" y1="57.5" x2="222.9" y2="63.1" stroke="#fff" stroke-width="1.10"/>
<line x1="222.3" y1="56.7" x2="223.2" y2="45.7" stroke="#fff" stroke-width="1.23"/>
<line x1="222.3" y1="57.7" x2="226.1" y2="63.1" stroke="#fff" stroke-width="1.08"/>
<line x1="225.6" y1="56.9" x2="226.5" y2="46.2" stroke="#fff" stroke-width="1.21"/>
<line x1="225.6" y1="57.9" x2="229.3" y2="63.2" stroke="#fff" stroke-width="1.06"/>
<line x1="228.8" y1="57.1" x2="229.7" y2="46.7" stroke="#fff" stroke-width="1.19"/>
<line x1="228.8" y1="58.1" x2="232.5" y2="63.4" stroke="#fff" stroke-width="1.04"/>
<line x1="232.0" y1="57.3" x2="232.9" y2="47.2" stroke="#fff" stroke-width="1.17"/>
<line x1="232.0" y1="58.3" x2="235.6" y2="63.5" stroke="#fff" stroke-width="1.02"/>
<line x1="235.1" y1="57.6" x2="236.0" y2="47.6" stroke="#fff" stroke-width="1.15"/>
<line x1="235.1" y1="58.6" x2="238.7" y2="63.6" stroke="#fff" stroke-width="1.00"/>
<line x1="238.2" y1="57.8" x2="239.1" y2="47.9" stroke="#fff" stroke-width="1.13"/>
<line x1="238.2" y1="58.8" x2="241.6" y2="63.7" stroke="#fff" stroke-width="0.98"/>
<line x1="241.3" y1="58.2" x2="242.2" y2="48.1" stroke="#fff" stroke-width="1.11"/>
<line x1="241.3" y1="59.2" x2="244.6" y2="63.9" stroke="#fff" stroke-width="0.96"/>
<line x1="244.3" y1="58.8" x2="245.2" y2="48.3" stroke="#fff" stroke-width="1.09"/>
<line x1="244.3" y1="59.8" x2="247.3" y2="64.1" stroke="#fff" stroke-width="0.94"/>
<line x1="247.3" y1="59.4" x2="248.2" y2="48.5" stroke="#fff" stroke-width="1.07"/>
<line x1="247.3" y1="60.4" x2="250.0" y2="64.3" stroke="#fff" stroke-width="0.92"/>
<line x1="250.2" y1="59.9" x2="251.1" y2="48.6" stroke="#fff" stroke-width="1.05"/>
<line x1="250.2" y1="60.9" x2="252.7" y2="64.5" stroke="#fff" stroke-width="0.90"/>
<line x1="253.1" y1="60.4" x2="254.0" y2="48.8" stroke="#fff" stroke-width="1.04"/>
<line x1="253.1" y1="61.4" x2="255.5" y2="64.7" stroke="#fff" stroke-width="0.89"/>
<line x1="256.0" y1="60.9" x2="256.9" y2="49.2" stroke="#fff" stroke-width="1.02"/>
<line x1="256.0" y1="61.9" x2="258.1" y2="64.9" stroke="#fff" stroke-width="0.87"/>
<line x1="258.8" y1="61.3" x2="259.7" y2="50.0" stroke="#fff" stroke-width="1.00"/>
<line x1="258.8" y1="62.3" x2="260.8" y2="65.1" stroke="#fff" stroke-width="0.85"/>
<line x1="261.6" y1="61.7" x2="262.5" y2="51.0" stroke="#fff" stroke-width="0.98"/>
<line x1="261.6" y1="62.7" x2="263.5" y2="65.3" stroke="#fff" stroke-width="0.83"/>
<line x1="264.4" y1="61.9" x2="265.3" y2="52.1" stroke="#fff" stroke-width="0.96"/>
<line x1="264.4" y1="62.9" x2="266.2" y2="65.5" stroke="#fff" stroke-width="0.81"/>
<line x1="267.1" y1="62.2" x2="268.0" y2="53.2" stroke="#fff" stroke-width="0.95"/>
<line x1="267.1" y1="63.2" x2="268.9" y2="65.7" stroke="#fff" stroke-width="0.80"/>
<line x1="269.8" y1="62.4" x2="270.7" y2="54.2" stroke="#fff" stroke-width="0.93"/>
<line x1="269.8" y1="63.4" x2="271.5" y2="65.9" stroke="#fff" stroke-width="0.78"/>
<line x1="272.5" y1="62.7" x2="273.4" y2="55.3" stroke="#fff" stroke-width="0.91"/>
<line x1="272.5" y1="63.7" x2="274.2" y2="66.1" stroke="#fff" stroke-width="0.76"/>
<line x1="275.1" y1="62.9" x2="276.0" y2="56.3" stroke="#fff" stroke-width="0.90"/>
<line x1="275.1" y1="63.9" x2="276.7" y2="66.3" stroke="#fff" stroke-width="0.75"/>
<line x1="277.7" y1="63.2" x2="278.6" y2="57.4" stroke="#fff" stroke-width="0.88"/>
<line x1="277.7" y1="64.2" x2="279.3" y2="66.4" stroke="#fff" stroke-width="0.73"/>
<line x1="280.3" y1="63.4" x2="281.2" y2="58.4" stroke="#fff" stroke-width="0.86"/>
<line x1="280.3" y1="64.4" x2="281.8" y2="66.6" stroke="#fff" stroke-width="0.71"/>
<line x1="282.8" y1="63.7" x2="283.7" y2="59.3" stroke="#fff" stroke-width="0.85"/>
<line x1="282.8" y1="64.7" x2="284.2" y2="66.7" stroke="#fff" stroke-width="0.70"/>
<line x1="285.3" y1="63.9" x2="286.2" y2="60.2" stroke="#fff" stroke-width="0.83"/>
<line x1="285.3" y1="64.9" x2="286.6" y2="66.8" stroke="#fff" stroke-width="0.68"/>
<line x1="287.7" y1="64.1" x2="288.6" y2="61.1" stroke="#fff" stroke-width="0.82"/>
<line x1="287.7" y1="65.1" x2="289.0" y2="66.9" stroke="#fff" stroke-width="0.67"/>
<line x1="290.2" y1="64.3" x2="291.1" y2="61.9" stroke="#fff" stroke-width="0.80"/>
<line x1="290.2" y1="65.3" x2="291.3" y2="66.9" stroke="#fff" stroke-width="0.65"/>
<line x1="292.6" y1="64.5" x2="293.5" y2="62.8" stroke="#fff" stroke-width="0.79"/>
<line x1="292.6" y1="65.5" x2="293.6" y2="67.0" stroke="#fff" stroke-width="0.64"/>
<line x1="294.9" y1="64.7" x2="295.8" y2="63.5" stroke="#fff" stroke-width="0.77"/>
<line x1="294.9" y1="65.7" x2="295.9" y2="67.0" stroke="#fff" stroke-width="0.62"/>
<line x1="297.3" y1="65.0" x2="298.2" y2="64.3" stroke="#fff" stroke-width="0.76"/>
<line x1="297.3" y1="66.0" x2="298.1" y2="67.1" stroke="#fff" stroke-width="0.61"/>
<polyline points="100.0,59.8 94.0,65.6 89.4,69.6" fill="none" stroke="#fff" stroke-width="4.0" stroke-linecap="round" stroke-linejoin="round"/>
<polyline points="103.0,57.0 110.5,61.0 115.6,66.4" fill="none" stroke="#fff" stroke-width="4.6" stroke-linecap="round" stroke-linejoin="round"/>
<polyline points="115.4,67.6 112.8,73.0 109.0,77.8" fill="none" stroke="#fff" stroke-width="4.2" stroke-linecap="round" stroke-linejoin="round"/>
<polyline points="172.0,56.8 162.0,61.6 156.0,64.6" fill="none" stroke="#fff" stroke-width="3.8" stroke-linecap="round" stroke-linejoin="round"/>
<polyline points="155.9,66.0 158.2,72.0 161.0,78.8" fill="none" stroke="#fff" stroke-width="3.6" stroke-linecap="round" stroke-linejoin="round"/>
<polyline points="160.5,65.2 168.0,70.2 173.6,74.0" fill="none" stroke="#fff" stroke-width="2.8" stroke-linecap="round" stroke-linejoin="round"/>
<line x1="98.5" y1="82.0" x2="108" y2="80.4" stroke="#bbb" stroke-width="0.7" stroke-dasharray="1.2 0.8"/>
<line x1="99" y1="80.6" x2="107.5" y2="79.4" stroke="#bbb" stroke-width="0.7" stroke-dasharray="1.2 0.8"/>
<line x1="148.5" y1="83.2" x2="164" y2="81.6" stroke="#bbb" stroke-width="0.7" stroke-dasharray="1.2 0.8"/>
<line x1="149" y1="81.5" x2="163" y2="80.4" stroke="#bbb" stroke-width="0.7" stroke-dasharray="1.2 0.8"/>
<line x1="85.5" y1="73.6" x2="93" y2="71.6" stroke="#bbb" stroke-width="0.7" stroke-dasharray="1.2 0.8"/>
<line x1="164" y1="78.0" x2="175.5" y2="75.4" stroke="#bbb" stroke-width="0.7" stroke-dasharray="1.2 0.8"/>
</g>
</svg>
</body>
</html>
